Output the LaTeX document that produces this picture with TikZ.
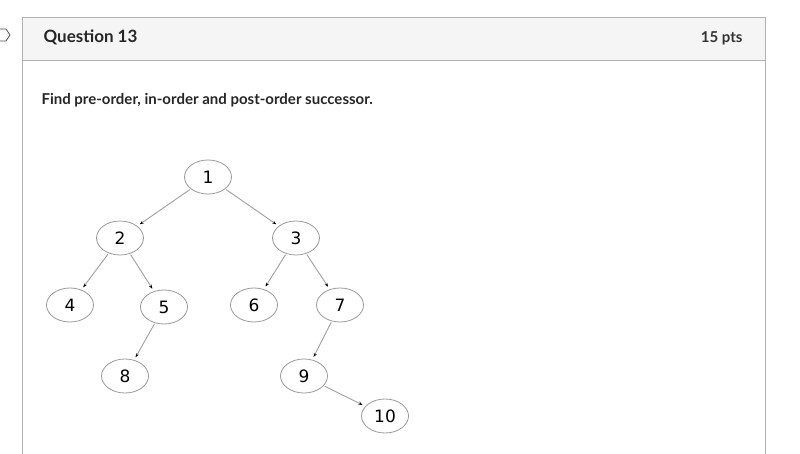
\documentclass[tikz,border=0pt]{standalone}
\usepackage{fontspec}
\setmainfont{Lato}
\newfontfamily\dv{DejaVu Sans}
\usetikzlibrary{shapes.geometric,arrows.meta}
\begin{document}
\begin{tikzpicture}[x=1pt,y=-1pt,
 tn/.style={ellipse,draw=gray!80,line width=0.8pt,minimum width=47pt,minimum height=34pt,inner sep=0pt,font=\dv\fontsize{17}{19}\selectfont},
 ed/.style={draw=gray!75,line width=0.9pt,-{Stealth[length=4pt,width=3pt,color=black]},shorten >=3pt,shorten <=1pt}]
\useasboundingbox (0,0) rectangle (800,454);
\fill[gray!8] (22,17) rectangle (765,60);
\draw[gray!60,line width=0.8pt] (22,454) -- (22,17) -- (765,17) -- (765,454);
\draw[gray!60,line width=0.8pt] (22,60) -- (765,60);
\draw[black!70,line width=0.8pt] (0,29) -- (6,29) -- (10,35) -- (6,41) -- (0,41);
\node[anchor=west,font=\bfseries\fontsize{17}{20}\selectfont,text=black!85] (q) at (40,37) {Question 13};
\node[anchor=east,font=\bfseries\fontsize{15}{18}\selectfont,text=black!80] (p) at (746,38) {15 pts};
\node[anchor=west,font=\bfseries\fontsize{15}{18}\selectfont,text=black!85] (t) at (38,100) {Find pre-order, in-order and post-order successor.};
\node[tn] (n1) at (208,177) {1};
\node[tn] (n2) at (120,238) {2};
\node[tn] (n3) at (296,238) {3};
\node[tn] (n4) at (70,305) {4};
\node[tn] (n5) at (164,307) {5};
\node[tn] (n6) at (254,305) {6};
\node[tn] (n7) at (340,305) {7};
\node[tn] (n8) at (125,376) {8};
\node[tn] (n9) at (304,376) {9};
\node[tn] (n10) at (385,416) {10};
\draw[ed] (n1) -- (n2);
\draw[ed] (n1) -- (n3);
\draw[ed] (n2) -- (n4);
\draw[ed] (n2) -- (n5);
\draw[ed] (n3) -- (n6);
\draw[ed] (n3) -- (n7);
\draw[ed] (n5) -- (n8);
\draw[ed] (n7) -- (n9);
\draw[ed] (n9) -- (n10);
\end{tikzpicture}
\end{document}
